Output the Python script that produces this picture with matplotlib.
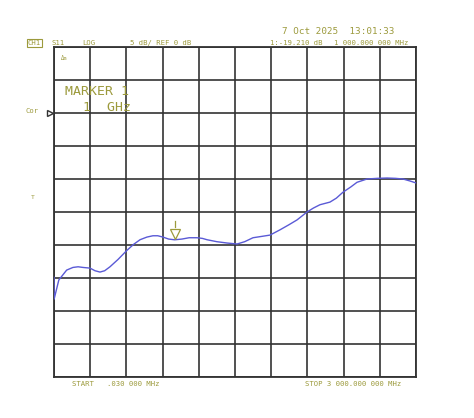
import numpy as np
import matplotlib.pyplot as plt
import matplotlib.transforms as mtransforms

# trace: frequency (MHz) vs S11 (dB)
freq_mhz = [0.03, 1, 40, 105, 157, 200, 240, 298, 340, 381, 420, 464, 530, 605,
            660, 713, 770, 820, 860, 903, 950, 1000, 1060, 1120, 1185, 1230,
            1268, 1350, 1434, 1517, 1580, 1649, 1720, 1790, 1873, 1950, 2014,
            2097, 2150, 2204, 2287, 2340, 2395, 2460, 2511, 2594, 2680, 2760,
            2830, 2892, 2950, 3000]
s11_db = [-24.9, -28.2, -25.3, -23.8, -23.4, -23.3, -23.4, -23.5, -23.9, -24.1,
          -23.9, -23.3, -22.2, -20.8, -19.9, -19.2, -18.8, -18.6, -18.6, -18.8,
          -19.1, -19.21, -19.1, -18.9, -18.9, -19.0, -19.2, -19.5, -19.7, -19.85,
          -19.5, -18.9, -18.7, -18.5, -17.7, -16.9, -16.2, -15.0, -14.4, -13.9,
          -13.5, -12.9, -12.0, -11.2, -10.5, -10.0, -9.9, -9.85, -9.9, -10.0,
          -10.3, -10.6]

marker_f = 1000
marker_db = -19.21

ref_db = 0
scale_db = 5
f_start = 0.03
f_stop = 3000

olive = "#9c9a3c"
trace_col = "#5a5ad6"
grid_col = "#333333"
mono = "DejaVu Sans Mono"

fig = plt.figure(figsize=(4.74, 4.18), dpi=100)
fig.patch.set_facecolor("white")
ax = fig.add_axes([54 / 474, 1 - 377 / 418, 362 / 474, 330 / 418])

# reference line sits two divisions below the top
ax.set_xlim(f_start, f_stop)
ax.set_ylim(ref_db - 8 * scale_db, ref_db + 2 * scale_db)
ax.set_xticks(np.linspace(f_start, f_stop, 11))
ax.set_yticks(np.arange(ref_db - 8 * scale_db, ref_db + 2 * scale_db + 1, scale_db))
ax.grid(True, color=grid_col, lw=1.2)
ax.tick_params(length=0, labelbottom=False, labelleft=False)
for s in ax.spines.values():
    s.set_color(grid_col)
    s.set_linewidth(1.3)

ax.plot(freq_mhz, s11_db, color=trace_col, lw=1.0, zorder=3)

# marker 1 symbol sitting just above the trace
off = mtransforms.offset_copy(ax.transData, fig=fig, x=0, y=4, units="points")
ax.plot(marker_f, marker_db, marker="v", ms=7, mfc="none", mec=olive,
        mew=0.9, transform=off, zorder=4)
off2 = mtransforms.offset_copy(ax.transData, fig=fig, x=0, y=9, units="points")
ax.plot([marker_f, marker_f], [marker_db, marker_db + 0.9], color=olive,
        lw=0.9, transform=off2, zorder=4)

# reference position arrow
ax.plot(f_start, ref_db, marker=">", ms=4, mfc="white", mec="#333333",
        clip_on=False, zorder=5,
        transform=mtransforms.offset_copy(ax.transData, fig=fig, x=-3, y=0,
                                          units="points"))

ax.text(0.03, 0.864, "MARKER 1", transform=ax.transAxes, color=olive,
        family=mono, fontsize=9.5, va="center")
ax.text(0.08, 0.818, "1  GHz", transform=ax.transAxes, color=olive,
        family=mono, fontsize=9.5, va="center")
ax.text(0.02, 0.965, "Δm", transform=ax.transAxes, color=olive,
        family=mono, fontsize=4, va="center")

def ftext(x, y, s, size=5.2, **kw):
    fig.text(x / 474, 1 - y / 418, s, color=olive, family=mono,
             fontsize=size, va="center", **kw)

ftext(282, 32, "7 Oct 2025  13:01:33", size=6.7)
ftext(28, 43, "CH1", bbox=dict(boxstyle="square,pad=0.15", fc="none",
                               ec=olive, lw=0.8))
ftext(52, 43, "S11")
ftext(82, 43, "LOG")
ftext(130, 43, "5 dB/ REF 0 dB")
ftext(270, 43, "1:-19.210 dB")
ftext(334, 43, "1 000.000 000 MHz")
ftext(26, 111, "Cor")
ftext(31, 197, "T", size=4.5)
ftext(72, 384, "START   .030 000 MHz")
ftext(305, 384, "STOP 3 000.000 000 MHz")

fig.savefig("out.png", dpi=100)
